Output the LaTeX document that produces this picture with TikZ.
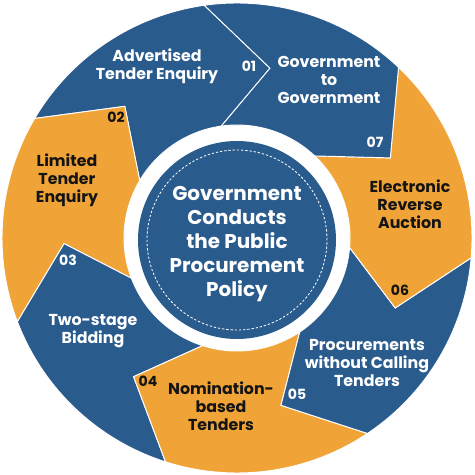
\documentclass[tikz,border=0pt]{standalone}
\usepackage{fontspec}
\setmainfont{Poppins}
\usetikzlibrary{positioning}
\definecolor{ppBlue}{HTML}{2A5B8D}
\definecolor{ppOrange}{HTML}{F0A437}
\definecolor{ppInk}{HTML}{141414}

\begin{document}
\begin{tikzpicture}[
  x=0.03cm, y=0.03cm,
  etq/.style={font=\fontsize{13.5}{15.5}\selectfont\bfseries, align=center, inner sep=0pt},
  etqAzul/.style={etq, text=white},
  etqNar/.style={etq, text=ppInk},
  num/.style={font=\fontsize{12}{14}\selectfont\bfseries, inner sep=0pt},
  numAzul/.style={num, text=white},
  numNar/.style={num, text=ppInk},
  centro/.style={font=\fontsize{17}{20.5}\selectfont\bfseries, align=center, inner sep=0pt, text=white},
]
\useasboundingbox (-237,-237) rectangle (237,238);

% ---- Anillo de etapas ----
\foreach \k/\col in {1/ppBlue,2/ppOrange,3/ppBlue,4/ppOrange,5/ppBlue,6/ppOrange,7/ppBlue}{
  \pgfmathsetmacro\a{98+51.43*\k}
  \pgfmathsetmacro\b{\a-51.43}
  \filldraw[fill=\col, draw=white, line width=0.8pt]
    (\a:113) -- (\a-19:173) -- (\a:235) arc[start angle=\a, end angle=\b, radius=235]
    -- (\b-19:173) -- (\b:113) arc[start angle=\b, end angle=\a, radius=113] -- cycle;
}

% ---- Centro ----
\fill[ppBlue] (0,-2) circle[radius=99];
\draw[white, line width=0.7pt, dash pattern=on 2pt off 1.6pt] (0,-2) circle[radius=90];
\node[centro] (politica) at (0,-6)
  {Government\\Conducts\\the Public\\Procurement\\Policy};

% ---- Etapas ----
\node[etqAzul] (anunciada)  at (-80,172)  {Advertised\\Tender Enquiry};
\node[etqNar]  (limitada)   at (-170,58)  {Limited\\Tender\\Enquiry};
\node[etqAzul] (dosetapas)  at (-144,-93) {Two-stage\\Bidding};
\node[etqNar]  (nominacion) at (-16,-168) {Nomination-\\based\\Tenders};
\node[etqAzul] (sinlicit)   at (130,-125) {Procurements\\without Calling\\Tenders};
\node[etqNar]  (subasta)    at (173,34)   {Electronic\\Reverse\\Auction};
\node[etqAzul] (gobgob)     at (92,158)   {Government\\to\\Government};

% ---- Numeros ----
\node[numAzul] (n01) at (12,172)   {01};
\node[numNar]  (n02) at (-121,121) {02};
\node[numAzul] (n03) at (-169,-22) {03};
\node[numNar]  (n04) at (-89,-143) {04};
\node[numAzul] (n05) at (60,-156)  {05};
\node[numNar]  (n06) at (163,-52)  {06};
\node[numAzul] (n07) at (138,96)   {07};

\end{tikzpicture}
\end{document}
